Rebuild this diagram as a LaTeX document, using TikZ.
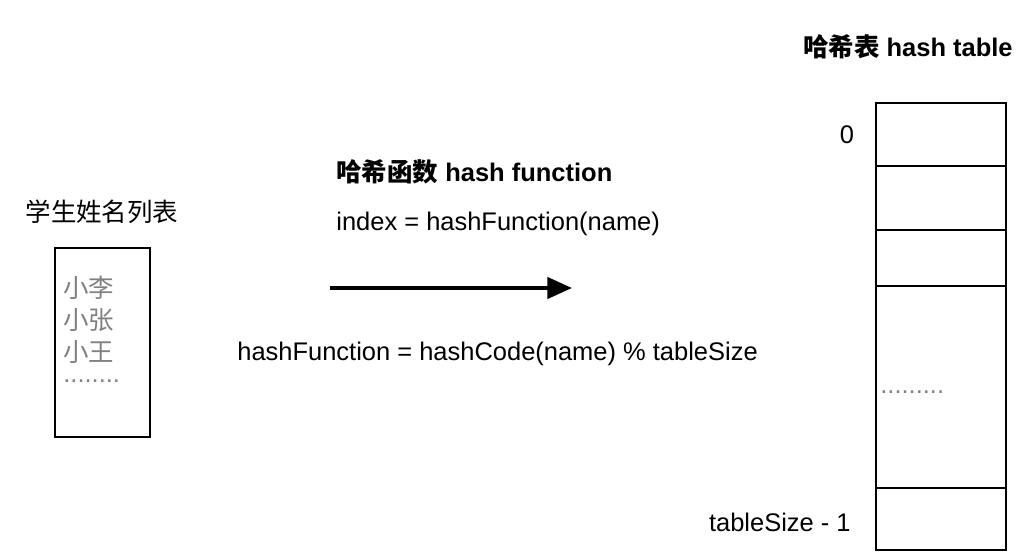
\documentclass[tikz,border=0pt]{standalone}
\usepackage{fontspec}
\setmainfont{Liberation Sans}
\newfontfamily\cjk{Noto Sans CJK SC}
\usetikzlibrary{arrows.meta}
\tikzset{
  lbl/.style = {inner sep=0pt, font=\fontsize{14.5}{16}\selectfont},
  ttl/.style = {lbl, font=\fontsize{14.5}{16}\selectfont\bfseries},
  nm/.style = {lbl, text=gray, anchor=west},
  cell/.style = {draw=black, thick},
}
\begin{document}
\begin{tikzpicture}[x=0.02cm,y=-0.02cm]
  \useasboundingbox (0,0) rectangle (1018,560);
  % student list
  \node[lbl] (lt) at (102,212) {\cjk 学生姓名列表};
  \draw[cell] (55,248) rectangle (150,437);
  \node[nm] (n1) at (63,288) {\cjk 小李};
  \node[nm] (n2) at (63,320) {\cjk 小张};
  \node[nm] (n3) at (63,352) {\cjk 小王};
  \node[nm] (n4) at (63,381) {........};
  % hash function
  \node[ttl, anchor=west] (ft) at (336,172) {{\cjk\bfseries 哈希函数} hash function};
  \node[lbl, anchor=west] (fi) at (336,224) {index = hashFunction(name)};
  \coordinate (a0) at (330,288);
  \coordinate (a1) at (572,288);
  \draw[line width=2.2pt, -{Triangle[length=14pt,width=12pt]}] (a0) -- (a1);
  \node[lbl, anchor=west] (fh) at (237,354) {hashFunction = hashCode(name) \% tableSize};
  % hash table
  \node[ttl, anchor=east] (tt) at (1013,47) {{\cjk\bfseries 哈希表} hash table};
  \draw[cell] (876,103) rectangle (1006,550);
  \foreach \y in {166,230,286,488}
    \draw[cell] (876,\y) -- (1006,\y);
  \node[lbl] (t0) at (847,135) {0};
  \node[nm] (td) at (880,392) {.........};
  \node[lbl, anchor=east] (tl) at (851,522) {tableSize - 1};
\end{tikzpicture}
\end{document}
